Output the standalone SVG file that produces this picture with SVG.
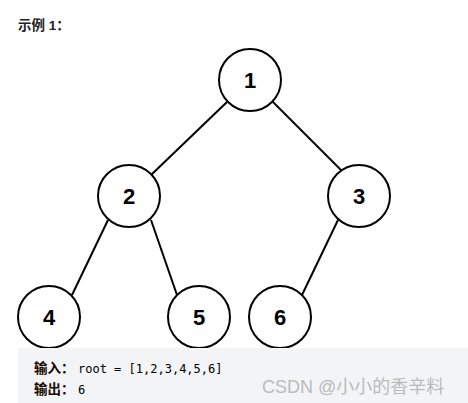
<svg xmlns="http://www.w3.org/2000/svg" width="468" height="403" viewBox="0 0 468 403">
<style>
.node circle{fill:#fff;stroke:#000;stroke-width:2}
.node text{font-family:"Liberation Sans",Arial,sans-serif;font-weight:bold;font-size:22px;text-anchor:middle;fill:#000}
#edges line{stroke:#000;stroke-width:2}
.lbl{font-family:"Liberation Sans","Noto Sans CJK SC",sans-serif;font-weight:bold;font-size:13.5px;fill:#1a0a00}
.mono{font-family:"DejaVu Sans Mono","Liberation Mono",monospace;font-size:12px;fill:#000}
</style>
<rect width="468" height="403" fill="#fff"/>
<text x="18" y="30" style="font-family:'Liberation Sans','Noto Sans CJK SC',sans-serif;font-weight:bold;font-size:13.5px;fill:#222">示例 1：</text>
<g id="edges">
<line x1="227" y1="102" x2="151" y2="175"/>
<line x1="272" y1="101" x2="343" y2="172"/>
<line x1="108" y1="220" x2="72" y2="295"/>
<line x1="151" y1="220" x2="177" y2="295"/>
<line x1="338" y1="220" x2="302" y2="295"/>
</g>
<g id="n1" class="node"><circle cx="250" cy="80" r="31"/><text x="250" y="88">1</text></g>
<g id="n2" class="node"><circle cx="129" cy="196" r="31"/><text x="129" y="204">2</text></g>
<g id="n3" class="node"><circle cx="359" cy="196" r="31"/><text x="359" y="204">3</text></g>
<g id="n4" class="node"><circle cx="49" cy="317" r="31"/><text x="49" y="325">4</text></g>
<g id="n5" class="node"><circle cx="199" cy="317" r="31"/><text x="199" y="325">5</text></g>
<g id="n6" class="node"><circle cx="280" cy="317" r="31"/><text x="280" y="325">6</text></g>
<rect x="18" y="348" width="450" height="55" fill="#f3f4f5"/>
<text x="34" y="373" class="lbl">输入：</text>
<text x="78" y="373" class="mono">root = [1,2,3,4,5,6]</text>
<text x="34" y="394" class="lbl">输出：</text>
<text x="78" y="394" class="mono">6</text>
<text x="262" y="393" style="font-family:'Liberation Sans','Noto Sans CJK SC',sans-serif;font-size:18px;fill:#bbb">CSDN @小小的香辛料</text>
</svg>
